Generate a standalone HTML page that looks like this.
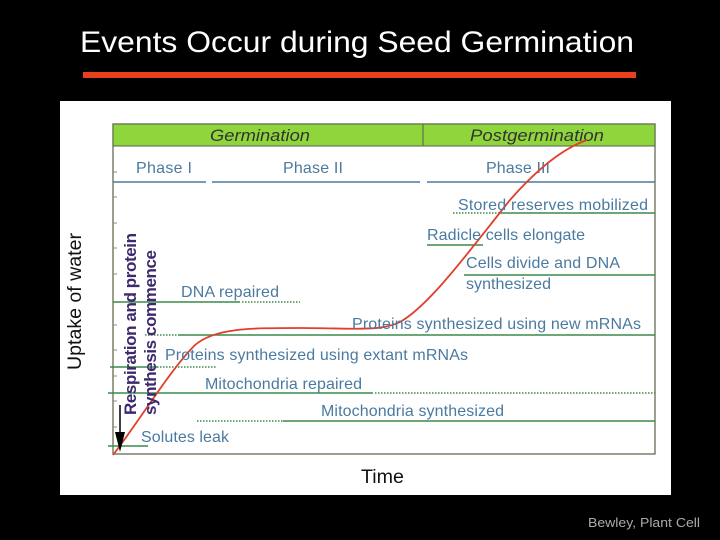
<!DOCTYPE html>
<html><head><meta charset="utf-8"><style>
html,body{margin:0;padding:0;background:#000;}
svg{display:block}
</style></head><body>
<svg width="720" height="540" viewBox="0 0 720 540" xmlns="http://www.w3.org/2000/svg" font-family="Liberation Sans, sans-serif">
<rect width="720" height="540" fill="#000"/>
<text x="80" y="52" fill="#fff" font-size="30" textLength="554" lengthAdjust="spacingAndGlyphs">Events Occur during Seed Germination</text>
<rect x="83" y="72" width="553" height="6" fill="#e8401c"/>
<rect x="60" y="101" width="611" height="394" fill="#fff"/>
<rect x="113" y="124" width="542" height="330" fill="none" stroke="#6a6a50" stroke-width="1.3"/>
<rect x="113" y="124" width="542" height="22" fill="#8fd63c" stroke="#55604a" stroke-width="1"/>
<line x1="423" y1="124" x2="423" y2="146" stroke="#55604a" stroke-width="1"/>
<text x="210" y="141" font-size="17" font-style="italic" fill="#333" textLength="100" lengthAdjust="spacingAndGlyphs">Germination</text>
<text x="470" y="141" font-size="17" font-style="italic" fill="#333" textLength="134" lengthAdjust="spacingAndGlyphs">Postgermination</text>
<g stroke="#888" stroke-width="1">
<line x1="113" y1="172" x2="117" y2="172"/><line x1="113" y1="197" x2="117" y2="197"/><line x1="113" y1="223" x2="117" y2="223"/><line x1="113" y1="248" x2="117" y2="248"/><line x1="113" y1="274" x2="117" y2="274"/><line x1="113" y1="325" x2="117" y2="325"/><line x1="113" y1="350" x2="117" y2="350"/><line x1="113" y1="376" x2="117" y2="376"/><line x1="113" y1="401" x2="117" y2="401"/><line x1="113" y1="427" x2="117" y2="427"/>
</g>
<g stroke="#4a7aa0" stroke-width="1.5">
<line x1="113" y1="182" x2="206" y2="182"/><line x1="212" y1="182" x2="420" y2="182"/><line x1="427" y1="182" x2="655" y2="182"/>
</g>
<g fill="#4a7aa0" font-size="16" lengthAdjust="spacingAndGlyphs">
<text x="136" y="173" textLength="56">Phase I</text><text x="283" y="173" textLength="60">Phase II</text><text x="486" y="173" textLength="64">Phase III</text>
</g>
<g stroke="#3a8a4a" stroke-width="1.6">
<line x1="500" y1="213" x2="655" y2="213"/>
<line x1="427" y1="245" x2="483" y2="245"/>
<line x1="464" y1="275" x2="655" y2="275"/>
<line x1="113" y1="302" x2="240" y2="302"/>
<line x1="178" y1="335" x2="655" y2="335"/>
<line x1="110" y1="367" x2="157" y2="367"/>
<line x1="108" y1="393" x2="373" y2="393"/>
<line x1="283" y1="421" x2="655" y2="421"/>
<line x1="108" y1="446" x2="148" y2="446"/>
</g>
<g stroke="#3a8a4a" stroke-width="1.6" stroke-dasharray="1.5 1.5">
<line x1="453" y1="213" x2="500" y2="213"/>
<line x1="242" y1="302" x2="300" y2="302"/>
<line x1="145" y1="335" x2="178" y2="335"/>
<line x1="157" y1="367" x2="217" y2="367"/>
<line x1="375" y1="393" x2="655" y2="393"/>
<line x1="197" y1="421" x2="283" y2="421"/>
</g>
<path d="M113,455 C140,420 170,370 195,345 C215,328 250,328 300,328 C350,328 380,332 400,322 C430,305 470,250 510,200 C545,160 570,146 587,140" fill="none" stroke="#e0402a" stroke-width="1.8"/>
<g fill="#4a7aa0" font-size="16" lengthAdjust="spacingAndGlyphs">
<text x="458" y="210" textLength="190">Stored reserves mobilized</text>
<text x="427" y="240" textLength="158">Radicle cells elongate</text>
<text x="466" y="268" textLength="154">Cells divide and DNA</text>
<text x="466" y="289" textLength="85">synthesized</text>
<text x="181" y="297" textLength="98">DNA repaired</text>
<text x="352" y="329" textLength="289">Proteins synthesized using new mRNAs</text>
<text x="165" y="360" textLength="303">Proteins synthesized using extant mRNAs</text>
<text x="205" y="389" textLength="157">Mitochondria repaired</text>
<text x="321" y="416" textLength="183">Mitochondria synthesized</text>
<text x="141" y="442" textLength="88">Solutes leak</text>
</g>
<g fill="#3d2a6e" font-size="17" font-weight="bold" lengthAdjust="spacingAndGlyphs">
<text transform="translate(136,415) rotate(-90)" textLength="182">Respiration and protein</text>
<text transform="translate(156,415) rotate(-90)" textLength="165">synthesis commence</text>
</g>
<line x1="120" y1="405" x2="120" y2="440" stroke="#000" stroke-width="1.5"/>
<polygon points="115,432 125,432 120,452" fill="#000"/>
<text transform="translate(81,370) rotate(-90)" font-size="19" fill="#111" textLength="137" lengthAdjust="spacingAndGlyphs">Uptake of water</text>
<text x="361" y="483" font-size="19" fill="#111" textLength="43" lengthAdjust="spacingAndGlyphs">Time</text>
<text x="588" y="527" font-size="13" fill="#aaa" textLength="112" lengthAdjust="spacingAndGlyphs">Bewley, Plant Cell</text>
</svg>
</body></html>
